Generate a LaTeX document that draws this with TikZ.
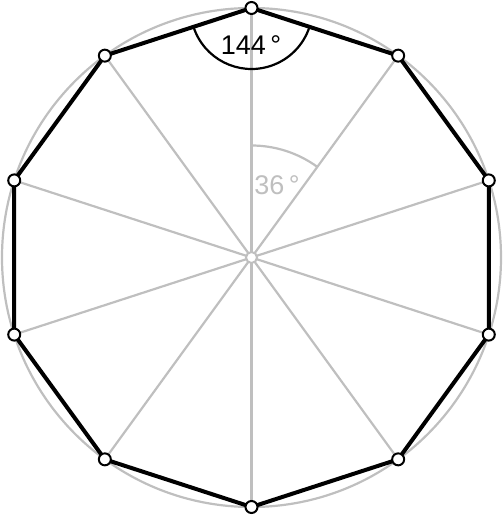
\documentclass[tikz,border=0pt]{standalone}
\usepackage{fontspec}
\setmainfont{Liberation Sans}
\usetikzlibrary{calc}
\begin{document}
\begin{tikzpicture}[x=1pt,y=1pt,
  spoke/.style={draw=black!25,line width=2.2pt},
  edge/.style={draw=black,line width=4pt,line join=round},
  vert/.style={circle,draw=black,fill=white,line width=2pt,minimum size=12pt,inner sep=0pt},
  ctr/.style={circle,draw=black!25,fill=white,line width=2pt,minimum size=11pt,inner sep=0pt},
  lbl/.style={font=\fontsize{27}{27}\selectfont,inner sep=0pt}]
\useasboundingbox (0,0) rectangle (503,515);
\coordinate (O) at (251.5,257.5);
\draw[black!25,line width=2.2pt] (O) circle (249.5);
\foreach \i in {0,...,9} {
  \coordinate (v\i) at ($(O)+({90+36*\i}:249.5)$);
}
\foreach \i in {0,...,9} {
  \draw[spoke] (O) -- (v\i);
}
\draw[spoke] ($(O)+(0,112)$) arc[start angle=90,end angle=54,radius=112];
\node[lbl,text=black!25] (l36) at (277,330) {36\,°};
\draw[edge] (v0) -- (v1) -- (v2) -- (v3) -- (v4) -- (v5) -- (v6) -- (v7) -- (v8) -- (v9) -- cycle;
\draw[black,line width=2.2pt] ($(v0)+(-162:61)$) arc[start angle=-162,end angle=-18,radius=61];
\node[lbl] (l144) at (251,470) {144\,°};
\foreach \i in {0,...,9} {
  \node[vert] (n\i) at (v\i) {};
}
\node[ctr] (c) at (O) {};
\end{tikzpicture}
\end{document}
